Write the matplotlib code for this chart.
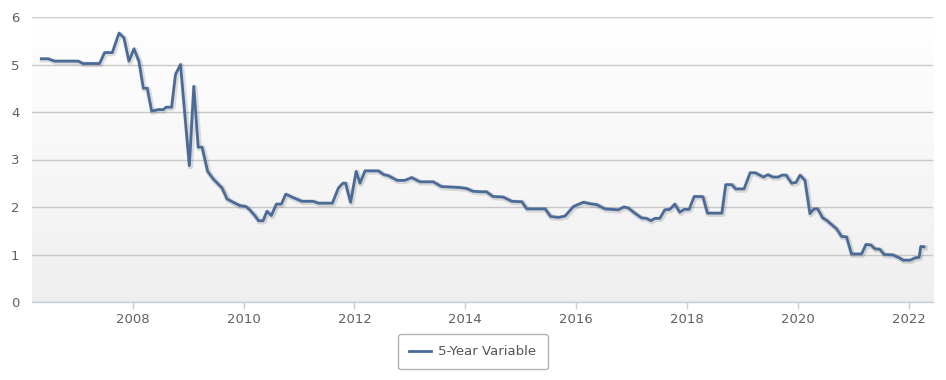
import numpy as np
import matplotlib
matplotlib.use("Agg")
import matplotlib.pyplot as plt
import matplotlib.patheffects as pe

# decimal years
years = [
    2006.35, 2006.47, 2006.59, 2007.01, 2007.10, 2007.40, 2007.49, 2007.63,
    2007.75, 2007.84, 2007.93, 2008.02, 2008.11, 2008.19, 2008.26, 2008.34,
    2008.46, 2008.55, 2008.60, 2008.70, 2008.77, 2008.86, 2009.02, 2009.10,
    2009.18, 2009.25, 2009.35, 2009.45, 2009.55, 2009.61, 2009.70, 2009.81,
    2009.93, 2010.04, 2010.11, 2010.20, 2010.27, 2010.35, 2010.42, 2010.50,
    2010.59, 2010.68, 2010.76, 2010.89, 2011.05, 2011.25, 2011.35, 2011.60,
    2011.71, 2011.79, 2011.84, 2011.93, 2012.03, 2012.10, 2012.19, 2012.43,
    2012.53, 2012.61, 2012.77, 2012.91, 2013.03, 2013.18, 2013.42, 2013.57,
    2013.90, 2014.02, 2014.14, 2014.29, 2014.38, 2014.50, 2014.68, 2014.84,
    2015.02, 2015.11, 2015.44, 2015.54, 2015.68, 2015.80, 2015.95, 2016.13,
    2016.25, 2016.37, 2016.52, 2016.76, 2016.86, 2016.94, 2017.06, 2017.18,
    2017.27, 2017.35, 2017.42, 2017.51, 2017.60, 2017.69, 2017.78, 2017.87,
    2017.95, 2018.04, 2018.13, 2018.27, 2018.29, 2018.37, 2018.63, 2018.70,
    2018.81, 2018.88, 2019.03, 2019.14, 2019.23, 2019.38, 2019.46, 2019.55,
    2019.65, 2019.71, 2019.79, 2019.89, 2019.97, 2020.04, 2020.13, 2020.22,
    2020.29, 2020.36, 2020.45, 2020.52, 2020.61, 2020.70, 2020.79, 2020.88,
    2020.97, 2021.15, 2021.23, 2021.32, 2021.39, 2021.48, 2021.56, 2021.72,
    2021.83, 2021.90, 2022.03, 2022.12, 2022.19, 2022.22, 2022.28,
]

rates = [
    5.12, 5.12, 5.07, 5.07, 5.02, 5.02, 5.25, 5.25,
    5.66, 5.56, 5.07, 5.33, 5.07, 4.50, 4.50, 4.02,
    4.05, 4.05, 4.10, 4.10, 4.79, 5.00, 2.87, 4.54,
    3.26, 3.26, 2.75, 2.59, 2.47, 2.40, 2.17, 2.10,
    2.03, 2.01, 1.94, 1.82, 1.71, 1.71, 1.91, 1.82,
    2.06, 2.06, 2.27, 2.20, 2.12, 2.12, 2.08, 2.08,
    2.40, 2.50, 2.50, 2.10, 2.75, 2.50, 2.76, 2.76,
    2.68, 2.66, 2.56, 2.56, 2.62, 2.53, 2.53, 2.43,
    2.41, 2.39, 2.33, 2.32, 2.32, 2.22, 2.21, 2.12,
    2.11, 1.96, 1.96, 1.80, 1.78, 1.81, 2.01, 2.10,
    2.07, 2.05, 1.96, 1.94, 2.00, 1.98, 1.87, 1.77,
    1.76, 1.71, 1.76, 1.76, 1.94, 1.95, 2.06, 1.89,
    1.95, 1.95, 2.22, 2.22, 2.21, 1.87, 1.87, 2.47,
    2.47, 2.38, 2.38, 2.72, 2.72, 2.63, 2.68, 2.63,
    2.63, 2.67, 2.67, 2.50, 2.52, 2.67, 2.56, 1.86,
    1.96, 1.96, 1.77, 1.72, 1.63, 1.54, 1.38, 1.37,
    1.01, 1.01, 1.21, 1.20, 1.12, 1.11, 1.00, 0.99,
    0.93, 0.88, 0.88, 0.93, 0.94, 1.17, 1.16,
]

x_ticks = [2008, 2010, 2012, 2014, 2016, 2018, 2020, 2022]
y_ticks = [0, 1, 2, 3, 4, 5, 6]
series_name = "5-Year Variable"

line_color = "#4a6b98"
text_color = "#606060"

fig = plt.figure(figsize=(9.46, 3.80), dpi=100)
ax = fig.add_axes([32 / 946, 78 / 380, 901 / 946, 285 / 380])

# soft vertical gradient behind the plot
grad = np.linspace(1.0, 0.0, 256).reshape(-1, 1)
ax.imshow(grad, extent=[0, 1, 0, 1], transform=ax.transAxes, aspect="auto",
          cmap=matplotlib.colors.LinearSegmentedColormap.from_list(
              "bg", ["#efefef", "#ffffff"]), zorder=0)

ax.plot(years, rates, color=line_color, lw=2.0, solid_joinstyle="round",
        zorder=3, label=series_name,
        path_effects=[pe.SimpleLineShadow(offset=(0.7, -0.7), alpha=0.12,
                                          shadow_color="#000000", linewidth=4),
                      pe.Normal()])

ax.set_xlim(2006.18, 2022.44)
ax.set_ylim(0, 6)
ax.set_xticks(x_ticks)
ax.set_yticks(y_ticks)
ax.grid(axis="y", color="#c8c8c8", lw=1)
ax.set_axisbelow(True)

for s in ["top", "right", "left"]:
    ax.spines[s].set_visible(False)
ax.spines["bottom"].set_color("#c0d0e0")
ax.spines["bottom"].set_linewidth(1)

ax.tick_params(axis="x", colors="#c0d0e0", length=5, width=1,
               labelcolor=text_color, labelsize=9.5, pad=3)
ax.tick_params(axis="y", length=0, labelcolor=text_color, labelsize=9.5, pad=9)

# legend box like the original rounded frame
leg = ax.legend(loc="upper center", bbox_to_anchor=(473 / 946, 46 / 380),
                bbox_transform=fig.transFigure, frameon=True, fancybox=True,
                fontsize=9.5, handlelength=1.6, handletextpad=0.6,
                borderpad=0.85, borderaxespad=0, labelcolor="#555555")
leg.get_frame().set_edgecolor("#a0a0a0")
leg.get_frame().set_linewidth(1)
for h in leg.get_lines():
    h.set_path_effects([pe.Normal()])

fig.savefig("out.png", dpi=100)
